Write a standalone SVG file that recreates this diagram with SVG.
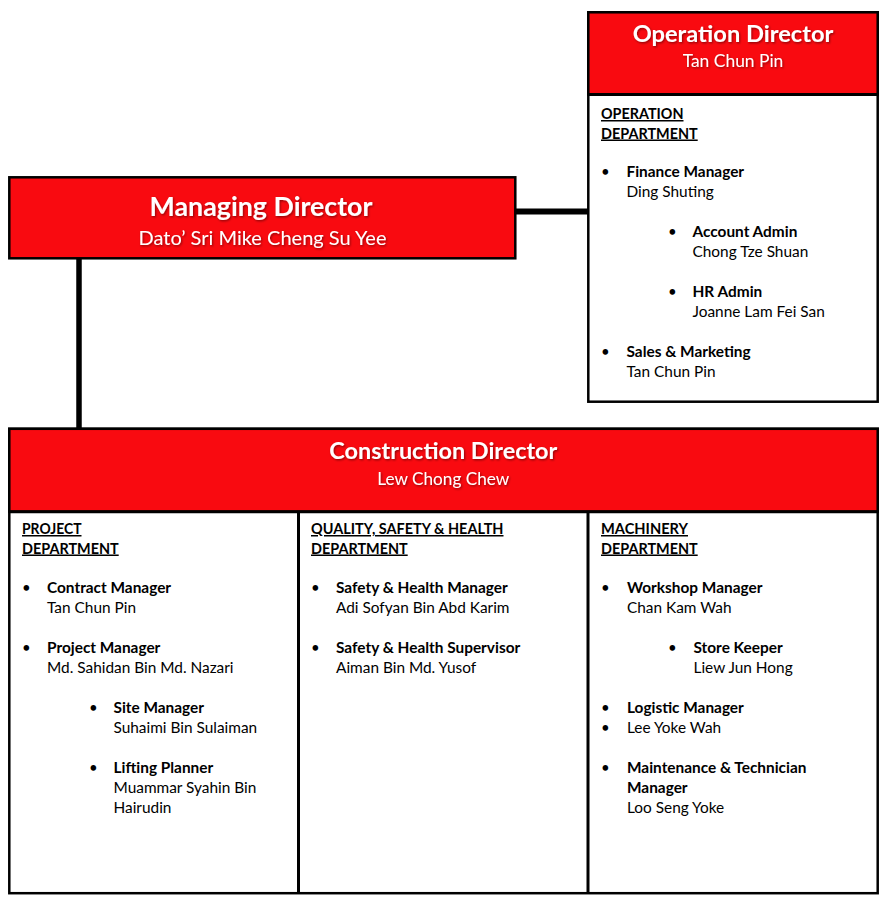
<svg xmlns="http://www.w3.org/2000/svg" width="891" height="904" viewBox="0 0 891 904">
<defs>
<filter id="sh" x="-10%" y="-30%" width="120%" height="160%">
<feDropShadow dx="1" dy="1.2" stdDeviation="0.9" flood-color="#000" flood-opacity="0.45"/>
</filter>
<style>
.box{fill:#fff;stroke:#000;stroke-width:2.5}
.hdr{fill:#F90A10;stroke:#000;stroke-width:2.5}
.ln{stroke:#000;stroke-width:3;fill:none}
.conn{stroke:#000;fill:none}
text{font-family:Lato,"Noto Sans","DejaVu Sans",sans-serif;fill:#000}
.t{font-weight:bold;fill:#fff;text-anchor:middle;filter:url(#sh)}
.s{fill:#fff;text-anchor:middle;filter:url(#sh)}
.d{font-weight:bold;font-size:15px;text-decoration:underline}
.b{font-weight:bold;font-size:15.4px}
.n{font-size:15.4px}
.bu{font-size:15px}
</style>
</defs>
<rect width="891" height="904" fill="#fff"/>

<g id="connectors">
<line class="conn" x1="516" y1="211.5" x2="588" y2="211.5" stroke-width="6"/>
<line class="conn" x1="79" y1="258" x2="79" y2="429" stroke-width="5.5"/>
</g>

<g id="operation-director">
<rect class="box" x="588.3" y="12.3" width="289.4" height="389.4"/>
<rect class="hdr" x="588.3" y="12.3" width="289.4" height="82.2"/>
<line class="ln" x1="588" y1="94.6" x2="878" y2="94.6"/>
<text class="t" x="733" y="42.3" font-size="23.5" textLength="200.7" lengthAdjust="spacingAndGlyphs">Operation Director</text>
<text class="s" x="733" y="67.3" font-size="17.6" textLength="100.7" lengthAdjust="spacingAndGlyphs">Tan Chun Pin</text>
<text class="d" x="601" y="119" textLength="82.5" lengthAdjust="spacingAndGlyphs">OPERATION</text>
<text class="d" x="601" y="138.5" textLength="96.7" lengthAdjust="spacingAndGlyphs">DEPARTMENT</text>
<text class="bu" x="601" y="176.5">•</text>
<text class="b" x="626.5" y="176.5">Finance Manager</text>
<text class="n" x="626.5" y="196.5">Ding Shuting</text>
<text class="bu" x="668" y="236.5">•</text>
<text class="b" x="692.5" y="236.5">Account Admin</text>
<text class="n" x="692.5" y="256.5">Chong Tze Shuan</text>
<text class="bu" x="668" y="296.5">•</text>
<text class="b" x="692.5" y="296.5">HR Admin</text>
<text class="n" x="692.5" y="316.5">Joanne Lam Fei San</text>
<text class="bu" x="601" y="356.5">•</text>
<text class="b" x="626.5" y="356.5">Sales &amp; Marketing</text>
<text class="n" x="626.5" y="376.5">Tan Chun Pin</text>
</g>

<g id="managing-director">
<rect class="hdr" x="9.3" y="177.3" width="506" height="81"/>
<text class="t" x="261" y="215.7" font-size="27" textLength="223" lengthAdjust="spacingAndGlyphs">Managing Director</text>
<text class="s" x="262.5" y="245" font-size="19" textLength="248" lengthAdjust="spacingAndGlyphs">Dato’ Sri Mike Cheng Su Yee</text>
</g>

<g id="construction-director">
<rect class="box" x="9.3" y="428.8" width="868.4" height="464.4"/>
<rect class="hdr" x="9.3" y="428.8" width="868.4" height="82.9"/>
<line class="ln" x1="9" y1="511.7" x2="878" y2="511.7"/>
<line class="ln" x1="298.5" y1="511.7" x2="298.5" y2="893"/>
<line class="ln" x1="588" y1="511.7" x2="588" y2="893"/>
<text class="t" x="443.3" y="458.7" font-size="23.5" textLength="228" lengthAdjust="spacingAndGlyphs">Construction Director</text>
<text class="s" x="443.3" y="484.7" font-size="17.6" textLength="132" lengthAdjust="spacingAndGlyphs">Lew Chong Chew</text>
</g>

<g id="project-department">
<text class="d" x="22" y="534" textLength="59.5" lengthAdjust="spacingAndGlyphs">PROJECT</text>
<text class="d" x="22" y="553.5" textLength="96.7" lengthAdjust="spacingAndGlyphs">DEPARTMENT</text>
<text class="bu" x="22" y="592.7">•</text>
<text class="b" x="47" y="592.7">Contract Manager</text>
<text class="n" x="47" y="612.7">Tan Chun Pin</text>
<text class="bu" x="22" y="652.7">•</text>
<text class="b" x="47" y="652.7">Project Manager</text>
<text class="n" x="47" y="672.7">Md. Sahidan Bin Md. Nazari</text>
<text class="bu" x="89" y="712.7">•</text>
<text class="b" x="113.5" y="712.7">Site Manager</text>
<text class="n" x="113.5" y="732.7">Suhaimi Bin Sulaiman</text>
<text class="bu" x="89" y="772.7">•</text>
<text class="b" x="113.5" y="772.7">Lifting Planner</text>
<text class="n" x="113.5" y="792.7">Muammar Syahin Bin</text>
<text class="n" x="113.5" y="812.7">Hairudin</text>
</g>

<g id="qsh-department">
<text class="d" x="311" y="534" textLength="192.5" lengthAdjust="spacingAndGlyphs">QUALITY, SAFETY &amp; HEALTH</text>
<text class="d" x="311" y="553.5" textLength="96.7" lengthAdjust="spacingAndGlyphs">DEPARTMENT</text>
<text class="bu" x="311" y="592.7">•</text>
<text class="b" x="336" y="592.7">Safety &amp; Health Manager</text>
<text class="n" x="336" y="612.7">Adi Sofyan Bin Abd Karim</text>
<text class="bu" x="311" y="652.7">•</text>
<text class="b" x="336" y="652.7">Safety &amp; Health Supervisor</text>
<text class="n" x="336" y="672.7">Aiman Bin Md. Yusof</text>
</g>

<g id="machinery-department">
<text class="d" x="601" y="534" textLength="87" lengthAdjust="spacingAndGlyphs">MACHINERY</text>
<text class="d" x="601" y="553.5" textLength="96.7" lengthAdjust="spacingAndGlyphs">DEPARTMENT</text>
<text class="bu" x="601" y="592.7">•</text>
<text class="b" x="627" y="592.7">Workshop Manager</text>
<text class="n" x="627" y="612.7">Chan Kam Wah</text>
<text class="bu" x="668" y="652.7">•</text>
<text class="b" x="693.5" y="652.7">Store Keeper</text>
<text class="n" x="693.5" y="672.7">Liew Jun Hong</text>
<text class="bu" x="601" y="712.7">•</text>
<text class="b" x="627" y="712.7">Logistic Manager</text>
<text class="bu" x="601" y="732.7">•</text>
<text class="n" x="627" y="732.7">Lee Yoke Wah</text>
<text class="bu" x="601" y="772.7">•</text>
<text class="b" x="627" y="772.7">Maintenance &amp; Technician</text>
<text class="b" x="627" y="792.7">Manager</text>
<text class="n" x="627" y="812.7">Loo Seng Yoke</text>
</g>
</svg>
